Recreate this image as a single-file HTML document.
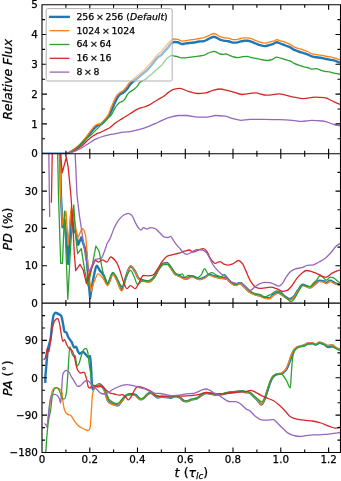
<!DOCTYPE html>
<html><head><meta charset="utf-8"><title>Resolution test</title>
<style>html,body{margin:0;padding:0;background:#fff}svg{display:block}text{font-family:"DejaVu Sans","Liberation Sans",sans-serif;fill:#000;stroke:#000;stroke-width:0.25px}.i{font-style:italic}</style></head>
<body>
<svg width="341" height="481" viewBox="0 0 341 481">
<rect width="341" height="481" fill="#fff"/>
<defs><clipPath id="c1"><rect x="42.0" y="4.7" width="298.5" height="149.0"/></clipPath><clipPath id="c2"><rect x="42.0" y="153.7" width="298.5" height="149.40000000000003"/></clipPath><clipPath id="c3"><rect x="42.0" y="303.1" width="298.5" height="149.39999999999998"/></clipPath></defs>
<g clip-path="url(#c1)" fill="none" stroke-linejoin="round" stroke-linecap="butt">
<path d="M42 153.7C50 153.7 58 153.7 66 153.7C67.17 153.7 68.33 153.07 69.5 152.6C71.47 151.81 73.43 150.46 75.4 149.1C77.17 147.87 78.93 146.4 80.7 144.7C82.47 143 84.23 140.76 86 138.6C87.77 136.44 89.53 133.84 91.3 131.7C92.47 130.29 93.63 128.79 94.8 127.7C95.67 126.89 96.53 126.06 97.4 125.6C98.6 124.96 99.8 124.84 101 124.2C102.17 123.57 103.33 122.38 104.5 121.2C105.97 119.72 107.43 118.01 108.9 115.7C110.03 113.92 111.17 111.18 112.3 108.7C113.3 106.51 114.3 103.75 115.3 101.7C116.27 99.72 117.23 97.64 118.2 96.4C119 95.38 119.8 94.52 120.6 94C121.37 93.51 122.13 93.36 122.9 92.9C123.67 92.44 124.43 91.83 125.2 91.1C126 90.34 126.8 89.28 127.6 88.2C128.37 87.17 129.13 85.63 129.9 84.7C130.7 83.73 131.5 83.01 132.3 82.3C133.27 81.44 134.23 80.77 135.2 80C136.2 79.2 137.2 78.41 138.2 77.6C139.37 76.65 140.53 75.67 141.7 74.7C142.87 73.73 144.03 72.84 145.2 71.8C145.97 71.12 146.73 70.39 147.5 69.6C149.2 67.85 150.9 65.79 152.6 63.8C154.57 61.5 156.53 58.05 158.5 56.7C159.07 56.31 159.63 56.18 160.2 55.8C161.57 54.88 162.93 52.98 164.3 51.5C165.87 49.8 167.43 48.26 169 46.2C169.53 45.5 170.07 44.23 170.6 43.8C171.8 42.84 173 42 174.2 42C175.37 42 176.53 42.14 177.7 42.3C179.17 42.5 180.63 44.1 182.1 44.1C183.27 44.1 184.43 43.57 185.6 43.4C187.07 43.19 188.53 43.05 190 42.9C191.47 42.75 192.93 42.69 194.4 42.5C195.87 42.31 197.33 41.67 198.8 41.5C200.57 41.3 202.33 41.34 204.1 41.1C205.27 40.94 206.43 39.98 207.6 39.4C208.77 38.82 209.93 38.07 211.1 37.6C212 37.24 212.9 36.7 213.8 36.7C214.67 36.7 215.53 37.22 216.4 37.6C217.57 38.11 218.73 39.28 219.9 39.7C221.07 40.12 222.23 40.41 223.4 40.6C225.1 40.88 226.8 40.9 228.5 41.2C229.97 41.45 231.43 42.6 232.9 42.6C234.07 42.6 235.23 42.6 236.4 42.6C237.87 42.6 239.33 41.7 240.8 41.4C242 41.15 243.2 40.8 244.4 40.8C245.57 40.8 246.73 40.8 247.9 40.8C249.07 40.8 250.23 41.33 251.4 41.7C252.87 42.16 254.33 42.92 255.8 43.5C257.27 44.08 258.73 44.81 260.2 45.2C261.67 45.59 263.13 46.1 264.6 46.1C266.07 46.1 267.53 45.57 269 45.2C270.47 44.83 271.93 44.35 273.4 43.8C274.57 43.36 275.73 42.2 276.9 42.2C278.07 42.2 279.23 43.05 280.4 43.5C282.07 44.14 283.73 44.87 285.4 45.5C286.87 46.06 288.33 46.42 289.8 47.1C291.27 47.78 292.73 49.22 294.2 49.9C295.67 50.58 297.13 51 298.6 51.5C300.07 52 301.53 52.43 303 52.9C304.47 53.37 305.93 53.74 307.4 54.3C308.87 54.86 310.33 55.98 311.8 56.4C313.27 56.82 314.73 57.09 316.2 57.3C317.67 57.51 319.13 57.59 320.6 57.8C322.07 58.01 323.53 58.4 325 58.7C326.47 59 327.93 59.32 329.4 59.6C330.87 59.88 332.33 60.05 333.8 60.4C335.87 60.89 337.93 61.87 340 62.6" stroke="#1f77b4" stroke-width="2.4"/>
<path d="M42 153.7C50 153.7 58 153.7 66 153.7C67 153.7 68 152.83 69 152.3C70.87 151.32 72.73 150.14 74.6 148.8C76.33 147.55 78.07 146.1 79.8 144.4C81.57 142.67 83.33 140.39 85.1 138.2C86.87 136.01 88.63 133.47 90.4 131.2C91.57 129.7 92.73 127.91 93.9 126.8C94.8 125.94 95.7 125.06 96.6 124.7C97.77 124.24 98.93 124.27 100.1 123.8C101.27 123.33 102.43 121.8 103.6 120.6C105.07 119.1 106.53 117.79 108 115.4C109.07 113.66 110.13 110.1 111.2 107.5C112.17 105.14 113.13 102.51 114.1 100.5C115.07 98.49 116.03 96.4 117 95.2C117.8 94.2 118.6 93.49 119.4 92.9C120.17 92.33 120.93 92.01 121.7 91.5C122.5 90.96 123.3 90.43 124.1 89.7C124.87 89 125.63 88 126.4 87C127.2 85.96 128 84.47 128.8 83.5C129.57 82.57 130.33 81.86 131.1 81.1C132.07 80.15 133.03 79.21 134 78.4C135 77.56 136 76.9 137 76.1C138.17 75.17 139.33 74.18 140.5 73.2C141.67 72.22 142.83 71.34 144 70.2C144.9 69.32 145.8 68.19 146.7 67.2C148.67 65.04 150.63 63.03 152.6 60.8C154.57 58.57 156.53 55.46 158.5 53.8C159.07 53.32 159.63 53.08 160.2 52.6C161.57 51.44 162.93 49.51 164.3 47.9C165.1 46.96 165.9 45.99 166.7 45C167.33 44.22 167.97 43.27 168.6 42.6C169.27 41.9 169.93 41.24 170.6 40.8C171.8 40.01 173 39 174.2 39C175.37 39 176.53 39.2 177.7 39.4C179.17 39.65 180.63 41.1 182.1 41.1C183.27 41.1 184.43 40.78 185.6 40.6C187.07 40.38 188.53 40.09 190 39.9C191.47 39.71 192.93 39.61 194.4 39.4C195.87 39.19 197.33 38.77 198.8 38.5C200.57 38.17 202.33 38.03 204.1 37.6C205.27 37.31 206.43 36.73 207.6 36.2C208.77 35.68 209.93 34.87 211.1 34.4C212 34.04 212.9 33.5 213.8 33.5C214.67 33.5 215.53 34.01 216.4 34.4C217.57 34.92 218.73 36.27 219.9 36.7C221.07 37.13 222.23 37.41 223.4 37.6C225.1 37.88 226.8 37.9 228.5 38.2C229.97 38.45 231.43 39.6 232.9 39.6C234.07 39.6 235.23 39.6 236.4 39.6C237.87 39.6 239.33 38.82 240.8 38.5C242 38.24 243.2 37.8 244.4 37.8C245.57 37.8 246.73 37.8 247.9 37.8C249.07 37.8 250.23 38.33 251.4 38.7C252.87 39.16 254.33 39.92 255.8 40.5C257.27 41.08 258.73 41.81 260.2 42.2C261.67 42.59 263.13 43.1 264.6 43.1C266.07 43.1 267.53 42.52 269 42.2C270.47 41.88 271.93 41.65 273.4 41.2C274.57 40.84 275.73 39.6 276.9 39.6C278.07 39.6 279.23 40.43 280.4 40.8C282.07 41.34 283.73 41.72 285.4 42.3C286.87 42.81 288.33 43.35 289.8 44.1C291.27 44.85 292.73 46.46 294.2 47.1C295.67 47.74 297.13 48.03 298.6 48.5C300.07 48.97 301.53 49.4 303 49.9C304.47 50.4 305.93 50.87 307.4 51.5C308.87 52.13 310.33 53.4 311.8 53.8C313.27 54.2 314.73 54.37 316.2 54.6C317.67 54.83 319.13 54.97 320.6 55.2C322.07 55.43 323.53 55.75 325 56C326.47 56.25 327.93 56.41 329.4 56.7C330.87 56.99 332.33 57.38 333.8 57.8C335.87 58.39 337.93 59.2 340 59.9" stroke="#ff7f0e" stroke-width="1.3"/>
<path d="M42 153.7C50 153.7 58 153.7 66 153.7C67.17 153.7 68.33 153.14 69.5 152.7C71.4 151.98 73.3 150.6 75.2 149.2C78.13 147.04 81.07 143.44 84 140.8C86.73 138.34 89.47 136.34 92.2 133.8C93.67 132.44 95.13 130.87 96.6 129.4C97.77 128.23 98.93 127.07 100.1 125.9C101.27 124.73 102.43 123.57 103.6 122.4C105.07 120.93 106.53 119.47 108 118C109.17 116.83 110.33 116.01 111.5 114.5C112.57 113.12 113.63 110.46 114.7 108.7C115.47 107.44 116.23 106.12 117 105.2C118 104.01 119 102.85 120 102.3C120.77 101.88 121.53 101.81 122.3 101.4C123.1 100.97 123.9 100.24 124.7 99.3C125.47 98.4 126.23 96.31 127 95.2C127.8 94.05 128.6 92.95 129.4 92.3C130.17 91.68 130.93 91.41 131.7 90.9C132.67 90.26 133.63 89.61 134.6 88.8C135.6 87.96 136.6 87.02 137.6 85.8C138.37 84.87 139.13 82.98 139.9 82.3C140.7 81.59 141.5 81.2 142.3 80.8C143.27 80.32 144.23 80.15 145.2 79.6C145.97 79.16 146.73 78.29 147.5 77.6C148.33 76.86 149.17 76.02 150 75.3C150.87 74.55 151.73 73.93 152.6 73.2C154.57 71.54 156.53 69.62 158.5 67.9C159.67 66.88 160.83 66.12 162 64.9C163.17 63.68 164.33 61.54 165.5 60.2C166.67 58.86 167.83 57.4 169 56.7C170 56.1 171 55.4 172 55.4C172.77 55.4 173.53 55.97 174.3 56.1C175.13 56.24 175.97 56.26 176.8 56.4C178.27 56.65 179.73 57.8 181.2 57.8C182.67 57.8 184.13 57.8 185.6 57.8C187.07 57.8 188.53 57.49 190 57.3C191.47 57.11 192.93 56.79 194.4 56.6C195.87 56.41 197.33 56.3 198.8 56.1C200.57 55.86 202.33 55.67 204.1 55.2C205.27 54.89 206.43 53.92 207.6 53.4C208.77 52.88 209.93 52.34 211.1 52C212.1 51.71 213.1 51.3 214.1 51.3C215.17 51.3 216.23 52.1 217.3 52.6C218.17 53 219.03 53.87 219.9 54C221.07 54.18 222.23 54.3 223.4 54.3C224.27 54.3 225.13 54 226 54C227.13 54 228.27 54.86 229.4 55.3C230.87 55.86 232.33 56.7 233.8 57C235.27 57.3 236.73 57.6 238.2 57.6C239.67 57.6 241.13 56.88 242.6 56.7C244.07 56.52 245.53 56.3 247 56.3C248.47 56.3 249.93 57.27 251.4 57.6C252.87 57.93 254.33 58.12 255.8 58.4C257.27 58.68 258.73 59 260.2 59.3C261.67 59.6 263.13 60.03 264.6 60.2C265.77 60.34 266.93 60.5 268.1 60.5C269.57 60.5 271.03 59.81 272.5 59.3C273.97 58.79 275.43 57.2 276.9 57.2C278.07 57.2 279.23 57.78 280.4 58.1C282.07 58.56 283.73 59.12 285.4 59.6C286.87 60.02 288.33 60.25 289.8 60.8C291.27 61.35 292.73 62.69 294.2 63.4C295.67 64.11 297.13 64.67 298.6 65.2C300.07 65.72 301.53 66.23 303 66.6C304.47 66.97 305.93 67.12 307.4 67.5C308.87 67.88 310.33 69.1 311.8 69.1C313.27 69.1 314.73 68.7 316.2 68.7C317.67 68.7 319.13 69.65 320.6 70.1C322.07 70.55 323.53 71.16 325 71.4C326.47 71.64 327.93 71.66 329.4 71.9C330.87 72.14 332.33 72.76 333.8 73.1C335.87 73.57 337.93 73.9 340 74.3" stroke="#2ca02c" stroke-width="1.3"/>
<path d="M42 153.7C50 153.7 58 153.7 66 153.7C67.17 153.7 68.33 153.18 69.5 152.8C71.2 152.25 72.9 151.39 74.6 150.5C76.93 149.29 79.27 147.91 81.6 146.1C83.37 144.73 85.13 142.49 86.9 140.9C88.67 139.31 90.43 137.74 92.2 136.5C93.67 135.47 95.13 134.44 96.6 133.8C97.77 133.29 98.93 133.08 100.1 132.6C101.57 132 103.03 131.04 104.5 130.3C106.27 129.4 108.03 128.8 109.8 127.7C111.53 126.62 113.27 124.59 115 123.3C116.77 121.99 118.53 120.93 120.3 119.8C121.53 119.01 122.77 118.26 124 117.5C126 116.26 128 115 130 113.8C132.9 112.05 135.8 109.87 138.7 108.7C140.47 107.98 142.23 107.63 144 107C146 106.29 148 105.62 150 104.6C151.17 104.01 152.33 103.03 153.5 102.3C155.07 101.32 156.63 100.42 158.2 99.5C159.93 98.48 161.67 97.67 163.4 96.5C165.1 95.36 166.8 93.58 168.5 92.4C170.2 91.22 171.9 89.7 173.6 89.3C175.73 88.8 177.87 88.4 180 88.4C182.67 88.4 185.33 90.55 188 91.3C191.23 92.21 194.47 93.5 197.7 93.5C200.4 93.5 203.1 93.24 205.8 92.9C207.97 92.63 210.13 91.16 212.3 90.6C214.97 89.91 217.63 89 220.3 89C222.47 89 224.63 89.83 226.8 90.3C228.2 90.61 229.6 90.94 231 91.3C234.77 92.26 238.53 94.5 242.3 94.5C246.6 94.5 250.9 92.9 255.2 92.9C258.97 92.9 262.73 95.2 266.5 95.2C270.8 95.2 275.1 93.9 279.4 93.9C283.7 93.9 288 95.98 292.3 96.8C296.07 97.52 299.83 98.7 303.6 98.7C307.37 98.7 311.13 97.1 314.9 97.1C318.1 97.1 321.3 97.35 324.5 97.7C327.73 98.05 330.97 100.5 334.2 101.9C336.13 102.74 338.07 103.57 340 104.4" stroke="#d62728" stroke-width="1.3"/>
<path d="M42 153.7C50 153.7 58 153.7 66 153.7C67.17 153.7 68.33 153.2 69.5 152.9C71.2 152.47 72.9 152.02 74.6 151.4C76.93 150.55 79.27 149.2 81.6 147.9C83.93 146.6 86.27 144.96 88.6 143.5C90.97 142.02 93.33 140.2 95.7 139.1C98.03 138.02 100.37 137.2 102.7 136.5C105.07 135.79 107.43 135.23 109.8 134.7C112.13 134.18 114.47 133.72 116.8 133.3C119.2 132.86 121.6 132.36 124 132.1C126 131.88 128 131.84 130 131.6C133.23 131.22 136.47 130.28 139.7 129.4C142.93 128.52 146.17 127.34 149.4 126.1C152.6 124.87 155.8 123.29 159 121.9C162.23 120.49 165.47 118.66 168.7 117.7C171.93 116.74 175.17 115.5 178.4 115.5C181.1 115.5 183.8 115.5 186.5 115.5C190.23 115.5 193.97 117.1 197.7 117.1C200.93 117.1 204.17 117.1 207.4 117.1C210.1 117.1 212.8 115.5 215.5 115.5C218.73 115.5 221.97 115.76 225.2 116.1C227.87 116.38 230.53 118.01 233.2 118.7C235.7 119.34 238.2 120.3 240.7 120.3C243.93 120.3 247.17 119.4 250.4 119.4C254.7 119.4 259 119.4 263.3 119.4C268.67 119.4 274.03 119.55 279.4 119.7C283.7 119.82 288 120.02 292.3 120.3C295.53 120.51 298.77 121.3 302 121.3C305.2 121.3 308.4 120.3 311.6 120.3C315.37 120.3 319.13 120.61 322.9 121C326.67 121.39 330.43 123.49 334.2 124.5C336.13 125.02 338.07 125.43 340 125.9" stroke="#9467bd" stroke-width="1.3"/>
</g>
<g clip-path="url(#c2)" fill="none" stroke-linejoin="round" stroke-linecap="butt">
<path d="M60 150L60.9 195L62.6 227.4L64.5 220L65.5 229L68.2 264L71.3 211.2L73.8 232.4L75.7 231L78.2 244.9L81.3 237.4L86.3 252.4L88 275L90.1 298L93 280C94.23 275.27 95.47 265.8 96.7 265.8C97.67 265.8 98.63 268.87 99.6 270.2C100.9 272 102.2 273.06 103.5 275.1C104.9 277.3 106.3 284 107.7 284C109.43 284 111.17 273.4 112.9 273.4C114.47 273.4 116.03 277.96 117.6 280.9C118.93 283.4 120.27 289.9 121.6 289.9C123 289.9 124.4 281.08 125.8 277.4C127.37 273.29 128.93 266.4 130.5 266.4C132.07 266.4 133.63 269.34 135.2 271.6C136.37 273.29 137.53 277.79 138.7 278.6C140.27 279.69 141.83 280.15 143.4 280.5C145.37 280.94 147.33 281.4 149.3 281.4C150.87 281.4 152.43 279.19 154 277.4C155.57 275.61 157.13 271.51 158.7 269.2C160.1 267.13 161.5 264.33 162.9 263.8C164.23 263.29 165.57 262.9 166.9 262.9C168.07 262.9 169.23 265.4 170.4 266.9C171.97 268.91 173.53 272.78 175.1 273.9C176.73 275.07 178.37 275.37 180 276.2C181.17 276.79 182.33 277.84 183.5 278.1C184.67 278.36 185.83 278.6 187 278.6C188.57 278.6 190.13 276.2 191.7 276.2C192.87 276.2 194.03 276.99 195.2 277.4C196.77 277.95 198.33 279.1 199.9 279.1C201.47 279.1 203.03 278.11 204.6 277.4C206.17 276.69 207.73 274.6 209.3 274.6C210.87 274.6 212.43 275.74 214 276.2C215.57 276.66 217.13 277.11 218.7 277.4C220.27 277.69 221.83 277.87 223.4 278.1C224.57 278.27 225.73 278.31 226.9 278.6C228.07 278.89 229.23 281.22 230.4 282.1C231.97 283.28 233.53 284.9 235.1 284.9C236.67 284.9 238.23 283.3 239.8 283.3C241.37 283.3 242.93 285.46 244.5 286.8C246.07 288.14 247.63 290.47 249.2 291.5C250.77 292.53 252.33 293.24 253.9 293.8C255.93 294.53 257.97 294.83 260 295.5C261.6 296.03 263.2 297.05 264.8 297.4C266.37 297.74 267.93 298.1 269.5 298.1C270.7 298.1 271.9 295.78 273.1 295C274.67 293.98 276.23 292.6 277.8 292.6C279.4 292.6 281 294.07 282.6 295C283.77 295.68 284.93 296.7 286.1 297.4C287.3 298.12 288.5 299.3 289.7 299.3C290.9 299.3 292.1 298.32 293.3 297.4C294.87 296.2 296.43 292.34 298 290.3C299.6 288.21 301.2 284.8 302.8 284.8C303.97 284.8 305.13 285.57 306.3 286C307.5 286.44 308.7 287.4 309.9 287.4C311.47 287.4 313.03 285.38 314.6 284.3C316.2 283.19 317.8 280.8 319.4 280.8C320.97 280.8 322.53 281.09 324.1 281.5C324.9 281.71 325.7 283.1 326.5 283.1C327.7 283.1 328.9 280.8 330.1 280.8C331.67 280.8 333.23 282.44 334.8 283.1C336.53 283.83 338.27 284.37 340 285" stroke="#1f77b4" stroke-width="2.4"/>
<path d="M59.9 150L60.7 195L62.6 224.9L66 211.2L68.2 244.9L71.3 206.8L74.5 220L77.6 238.6L81.9 228.7L83.8 229.5L85.7 236.1L88.6 271.7L91.1 291.5L94 282C95.37 279.3 96.73 273.9 98.1 273.9C99.1 273.9 100.1 275.15 101.1 276.1C102.07 277.02 103.03 278.63 104 280C105.23 281.75 106.47 285.6 107.7 285.6C109.43 285.6 111.17 274.6 112.9 274.6C114.47 274.6 116.03 279.08 117.6 282C118.93 284.48 120.27 291 121.6 291C123 291 124.4 281.98 125.8 278C127.37 273.55 128.93 265.7 130.5 265.7C132.07 265.7 133.63 269.07 135.2 271.6C136.37 273.48 137.53 278.34 138.7 279.2C140.27 280.35 141.83 280.81 143.4 281.2C145.37 281.68 147.33 282.2 149.3 282.2C150.87 282.2 152.43 279.85 154 278C155.57 276.15 157.13 272.11 158.7 269.8C160.1 267.73 161.5 264.93 162.9 264.4C164.23 263.89 165.57 263.5 166.9 263.5C168.07 263.5 169.23 266 170.4 267.5C171.97 269.51 173.53 273.38 175.1 274.5C176.73 275.67 178.37 275.97 180 276.8C181.17 277.39 182.33 278.44 183.5 278.7C184.67 278.96 185.83 279.2 187 279.2C188.57 279.2 190.13 276.8 191.7 276.8C192.87 276.8 194.03 277.59 195.2 278C196.77 278.55 198.33 279.7 199.9 279.7C201.47 279.7 203.03 278.71 204.6 278C206.17 277.29 207.73 275.2 209.3 275.2C210.87 275.2 212.43 276.34 214 276.8C215.57 277.26 217.13 277.71 218.7 278C220.27 278.29 221.83 278.47 223.4 278.7C224.57 278.87 225.73 278.91 226.9 279.2C228.07 279.49 229.23 281.82 230.4 282.7C231.97 283.88 233.53 285.5 235.1 285.5C236.67 285.5 238.23 283.9 239.8 283.9C241.37 283.9 242.93 286.06 244.5 287.4C246.07 288.74 247.63 291.07 249.2 292.1C250.77 293.13 252.33 293.84 253.9 294.4C255.93 295.13 257.97 295.43 260 296.1C261.6 296.63 263.2 297.65 264.8 298C266.37 298.34 267.93 298.7 269.5 298.7C270.7 298.7 271.9 296.38 273.1 295.6C274.67 294.58 276.23 293.2 277.8 293.2C279.4 293.2 281 294.67 282.6 295.6C283.77 296.28 284.93 297.3 286.1 298C287.3 298.72 288.5 299.9 289.7 299.9C290.9 299.9 292.1 298.92 293.3 298C294.87 296.8 296.43 292.94 298 290.9C299.6 288.81 301.2 285.4 302.8 285.4C303.97 285.4 305.13 286.17 306.3 286.6C307.5 287.04 308.7 288 309.9 288C311.47 288 313.03 285.98 314.6 284.9C316.2 283.79 317.8 281.4 319.4 281.4C320.97 281.4 322.53 281.69 324.1 282.1C324.9 282.31 325.7 283.7 326.5 283.7C327.7 283.7 328.9 281.4 330.1 281.4C331.67 281.4 333.23 283.04 334.8 283.7C336.53 284.43 338.27 284.97 340 285.6" stroke="#ff7f0e" stroke-width="1.3"/>
<path d="M57.6 150L58.5 195L60.7 263.3L62.5 263.3L64.5 211.2L67.8 299.3L70.7 245L73.8 205L75.5 235L77.6 253.7L81.3 248.7L84.9 271.7L87.9 285.6L91 272L95.9 246C96.9 247.7 97.9 248.56 98.9 251.1C100.1 254.14 101.3 265.84 102.5 270.2C104.13 276.14 105.77 283.4 107.4 283.4C109.2 283.4 111 272.4 112.8 272.4C114.4 272.4 116 277.38 117.6 279.8C119.17 282.17 120.73 286.8 122.3 286.8C123.87 286.8 125.43 277.79 127 275.1C128.17 273.09 129.33 270.4 130.5 270.4C131.67 270.4 132.83 273.92 134 276.2C135.17 278.48 136.33 284.5 137.5 284.5C139.07 284.5 140.63 280.9 142.2 280.9C143.77 280.9 145.33 280.9 146.9 280.9C148.87 280.9 150.83 279.83 152.8 278.6C154.77 277.37 156.73 271.63 158.7 269.2C160.23 267.31 161.77 264.5 163.3 264.5C164.87 264.5 166.43 264.5 168 264.5C169.2 264.5 170.4 266.68 171.6 268C173.13 269.69 174.67 273.42 176.2 273.9C177.47 274.3 178.73 274.6 180 274.6C180.77 274.6 181.53 273.9 182.3 273.9C183.1 273.9 183.9 277.4 184.7 277.4C185.87 277.4 187.03 275.5 188.2 275.5C189.77 275.5 191.33 275.82 192.9 276.2C194.07 276.48 195.23 278.1 196.4 278.1C197.97 278.1 199.53 276.62 201.1 275.1C202.27 273.97 203.43 268.7 204.6 268.7C205.8 268.7 207 273.9 208.2 273.9C209.37 273.9 210.53 272.7 211.7 272.7C213.27 272.7 214.83 274.46 216.4 275.1C217.97 275.74 219.53 276.7 221.1 276.7C222.27 276.7 223.43 274.6 224.6 274.6C225.77 274.6 226.93 277.36 228.1 278.6C229.27 279.84 230.43 281.3 231.6 282.1C233.17 283.18 234.73 284.5 236.3 284.5C237.87 284.5 239.43 282.6 241 282.6C242.17 282.6 243.33 284.53 244.5 285.6C246.07 287.04 247.63 289.12 249.2 290.3C251.17 291.78 253.13 293.36 255.1 293.8C256.73 294.17 258.37 294.09 260 294.5C261.2 294.8 262.4 297.4 263.6 297.4C264.77 297.4 265.93 296.67 267.1 296.2C268.7 295.56 270.3 294.67 271.9 293.8C273.47 292.95 275.03 291 276.6 291C278.2 291 279.8 291.77 281.4 292.6C282.57 293.2 283.73 295.02 284.9 296.2C286.1 297.42 287.3 298.75 288.5 299.8C289.3 300.5 290.1 301.7 290.9 301.7C292.07 301.7 293.23 299.94 294.4 298.6C296 296.76 297.6 292.83 299.2 290.3C300.4 288.4 301.6 285 302.8 285C303.97 285 305.13 285.73 306.3 286C307.5 286.28 308.7 286.7 309.9 286.7C311.07 286.7 312.23 284.27 313.4 283.1C314.6 281.9 315.8 280.95 317 279.6C318.03 278.44 319.07 275.5 320.1 275.5C321.03 275.5 321.97 276.54 322.9 277.2C324.1 278.05 325.3 280.3 326.5 280.3C327.7 280.3 328.9 277.2 330.1 277.2C331.27 277.2 332.43 277.53 333.6 277.9C334.8 278.28 336 279.82 337.2 280.8C338.13 281.56 339.07 282.33 340 283.1" stroke="#2ca02c" stroke-width="1.3"/>
<path d="M51.4 202.8L52.3 150M60.3 150L62.2 172.9L66.4 157L68.2 167.6L70.8 194L72.6 220.4L74.4 255L75.7 270.6L80 264.3L83.2 270L86.4 283.4L90.8 270.2L95.2 259.9C96.17 260.63 97.13 262.1 98.1 262.1C99.57 262.1 101.03 259.9 102.5 259.9C103.97 259.9 105.43 262.1 106.9 262.1C108.13 262.1 109.37 257 110.6 257C112.53 257 114.47 259.6 116.4 262.2C117.57 263.77 118.73 267.23 119.9 270.4C121.1 273.66 122.3 279.24 123.5 282.1C124.67 284.88 125.83 288.7 127 288.7C128.17 288.7 129.33 285.6 130.5 285.6C132.07 285.6 133.63 288.7 135.2 288.7C136.37 288.7 137.53 285.16 138.7 283.3C140.27 280.8 141.83 275.5 143.4 275.5C144.97 275.5 146.53 275.8 148.1 275.8C149.67 275.8 151.23 275.52 152.8 275.1C154.37 274.68 155.93 271.43 157.5 269.2C159.07 266.97 160.63 263.57 162.2 261.5C163.77 259.43 165.33 257.01 166.9 256.3C168.83 255.43 170.77 255.21 172.7 254.7C174.27 254.29 175.83 253.91 177.4 253.5C178.27 253.27 179.13 253.06 180 252.8C181.57 252.32 183.13 251.55 184.7 251.1C186.27 250.65 187.83 250 189.4 250C190.57 250 191.73 252.1 192.9 252.1C194.47 252.1 196.03 250.92 197.6 250.4C199.57 249.75 201.53 248.6 203.5 248.6C204.67 248.6 205.83 250.19 207 251.6C208.17 253.01 209.33 257.13 210.5 258.7C212.07 260.8 213.63 263.3 215.2 263.3C216.77 263.3 218.33 261.7 219.9 261.7C221.07 261.7 222.23 263.33 223.4 263.8C224.97 264.43 226.53 265.2 228.1 265.2C229.67 265.2 231.23 264.4 232.8 263.8C234.77 263.04 236.73 260.5 238.7 260.5C239.87 260.5 241.03 261.96 242.2 263.3C243.37 264.64 244.53 267.93 245.7 270.4C247.27 273.72 248.83 278.38 250.4 280.9C251.97 283.42 253.53 285.98 255.1 286.8C256.73 287.65 258.37 288.4 260 288.4C261.6 288.4 263.2 288.08 264.8 287.9C266.77 287.68 268.73 287.2 270.7 287.2C272.67 287.2 274.63 287.98 276.6 288.6C278.6 289.23 280.6 291.4 282.6 291.4C284.17 291.4 285.73 290.89 287.3 290.3C288.9 289.69 290.5 287.43 292.1 285.5C293.67 283.61 295.23 280.29 296.8 278.4C298.4 276.47 300 274.87 301.6 273.6C303.17 272.36 304.73 270.5 306.3 270.5C307.9 270.5 309.5 270.93 311.1 271.3C313.07 271.75 315.03 272.73 317 273.6C318.6 274.3 320.2 275.46 321.8 276C323.37 276.53 324.93 277.2 326.5 277.2C328.1 277.2 329.7 274.55 331.3 273.6C332.87 272.67 334.43 271.91 336 271.3C337.33 270.78 338.67 270.43 340 270" stroke="#d62728" stroke-width="1.3"/>
<path d="M49.7 217L49.3 190L48.8 150M75 150L77 195L79.6 216.9L82 232.4L85.7 258.5L89.3 271.7L93 262.9C93.97 261.67 94.93 259.45 95.9 259.2C97.63 258.74 99.37 258.98 101.1 258.5C102.07 258.23 103.03 254.86 104 252.6C105.23 249.72 106.47 244.52 107.7 242.3C108.27 241.28 108.83 240.88 109.4 239.9C110.97 237.19 112.53 231.44 114.1 228.2C115.67 224.96 117.23 221.9 118.8 219.9C120.37 217.9 121.93 216.07 123.5 215.2C125.07 214.33 126.63 213.4 128.2 213.4C129.37 213.4 130.53 214.24 131.7 215.2C132.87 216.16 134.03 220.15 135.2 222.3C136.37 224.45 137.53 227.02 138.7 228.2C139.5 229.01 140.3 230 141.1 230C141.87 230 142.63 227.7 143.4 227.7C144.57 227.7 145.73 228.9 146.9 228.9C148.07 228.9 149.23 227.7 150.4 227.7C151.97 227.7 153.53 228.11 155.1 228.6C156.67 229.09 158.23 231.38 159.8 232.8C161.37 234.22 162.93 236.79 164.5 237.1C165.67 237.33 166.83 237.5 168 237.5C168.8 237.5 169.6 236.4 170.4 236.4C171.57 236.4 172.73 239.55 173.9 241.1C175.07 242.65 176.23 244.3 177.4 245.7C178.27 246.74 179.13 247.6 180 248.6C181.17 249.95 182.33 252.03 183.5 252.8C184.67 253.57 185.83 254.4 187 254.4C188.57 254.4 190.13 252.88 191.7 252.1C193.27 251.32 194.83 249.7 196.4 249.7C198.37 249.7 200.33 249.8 202.3 250C203.47 250.12 204.63 251.09 205.8 252.1C206.97 253.11 208.13 255.47 209.3 257.5C210.47 259.53 211.63 262.68 212.8 264.5C214.37 266.94 215.93 268.76 217.5 270.4C219.07 272.04 220.63 273.48 222.2 274.6C223.77 275.72 225.33 276.23 226.9 277.4C228.47 278.57 230.03 281.46 231.6 282.1C233.17 282.74 234.73 283.3 236.3 283.3C237.87 283.3 239.43 283.3 241 283.3C242.57 283.3 244.13 285.63 245.7 286.8C247.27 287.97 248.83 290.3 250.4 290.3C251.97 290.3 253.53 287.89 255.1 286.8C256.73 285.66 258.37 284.19 260 283.6C261.6 283.02 263.2 282.4 264.8 282.4C266.37 282.4 267.93 282.53 269.5 282.7C271.1 282.87 272.7 283.72 274.3 284.3C275.87 284.87 277.43 286.2 279 286.2C280.2 286.2 281.4 284.47 282.6 283.1C283.77 281.77 284.93 278.87 286.1 277.2C287.7 274.91 289.3 272.45 290.9 271.3C292.47 270.17 294.03 269.36 295.6 268.9C297.6 268.31 299.6 268.24 301.6 267.7C303.57 267.17 305.53 265.58 307.5 265.3C309.47 265.02 311.43 265.08 313.4 264.8C315.4 264.51 317.4 262.9 319.4 261.8C321.37 260.72 323.33 259.68 325.3 258.2C327.3 256.69 329.3 254.53 331.3 252.3C332.87 250.55 334.43 247.71 336 246.3C337.33 245.1 338.67 244.43 340 243.5" stroke="#9467bd" stroke-width="1.3"/>
</g>
<g clip-path="url(#c3)" fill="none" stroke-linejoin="round" stroke-linecap="butt">
<path d="M45.3 383L45.3 377.4C45.6 373.9 45.9 370.21 46.2 366.9C46.77 360.65 47.33 352.64 47.9 349.3C48.8 344 49.7 343.83 50.6 338.7C51.17 335.47 51.73 326.85 52.3 322.9C52.77 319.65 53.23 316 53.7 315C54.3 313.72 54.9 312.7 55.5 312.7C56.5 312.7 57.5 313.55 58.5 314.1C59.37 314.57 60.23 314.78 61.1 315.8C61.7 316.5 62.3 320.21 62.9 322.9C63.47 325.44 64.03 331.18 64.6 331.7C65.2 332.25 65.8 332.1 66.4 332.6C67 333.1 67.6 335.86 68.2 337C69.37 339.21 70.53 340.18 71.7 342.2C72.57 343.7 73.43 347.5 74.3 347.5C74.9 347.5 75.5 346.6 76.1 346.6C76.67 346.6 77.23 349.92 77.8 351C78.4 352.14 79 353.7 79.6 353.7C80.77 353.7 81.93 351.9 83.1 351.9C83.97 351.9 84.83 353.63 85.7 354.5C86.6 355.4 87.5 357.2 88.4 357.2C88.97 357.2 89.53 356 90.1 356C90.4 356 90.7 362.78 91 366.9C91.47 373.3 91.93 389.6 92.4 389.6C93.57 389.6 94.73 386.89 95.9 386.1C97.07 385.31 98.23 384.3 99.4 384.3C100.3 384.3 101.2 385.24 102.1 386.1C102.97 386.93 103.83 388.5 104.7 390.5C105.3 391.88 105.9 394.84 106.5 396.6C107.07 398.26 107.63 400.24 108.2 401C109.1 402.2 110 402.83 110.9 403.3C112.07 403.91 113.23 404.27 114.4 404.6C115.57 404.93 116.73 405.4 117.9 405.4C118.5 405.4 119.1 404.36 119.7 403.7C120.57 402.75 121.43 401.33 122.3 400.2C123.47 398.68 124.63 396.53 125.8 395.8C127 395.05 128.2 394.3 129.4 394.3C130.57 394.3 131.73 394.3 132.9 394.3C133.77 394.3 134.63 394.57 135.5 394.9C136.37 395.22 137.23 396.81 138.1 397.5C139 398.22 139.9 399.3 140.8 399.3C141.67 399.3 142.53 398.84 143.4 398.4C144.3 397.94 145.2 396.66 146.1 395.8C146.73 395.2 147.37 394.39 148 394C148.9 393.44 149.8 392.8 150.7 392.8C151.87 392.8 153.03 394.42 154.2 395.2C155.37 395.98 156.53 397.5 157.7 397.5C158.87 397.5 160.03 396.8 161.2 396.8C162.57 396.8 163.93 396.9 165.3 397C167.07 397.12 168.83 397.7 170.6 397.7C172.33 397.7 174.07 396.2 175.8 396.2C177.13 396.2 178.47 396.87 179.8 397.5C181.13 398.13 182.47 400.5 183.8 400.9C184.67 401.16 185.53 401.4 186.4 401.4C188.17 401.4 189.93 400.1 191.7 399.6C193.47 399.1 195.23 398.96 197 398.3C198.3 397.82 199.6 396.35 200.9 395.6C202.67 394.58 204.43 393 206.2 393C207.97 393 209.73 393.5 211.5 393.8C213.23 394.09 214.97 394.8 216.7 394.8C218.47 394.8 220.23 394.54 222 394.3C223.77 394.06 225.53 393.33 227.3 393C229.07 392.67 230.83 392.41 232.6 392.2C234.37 391.99 236.13 391.91 237.9 391.7C239.2 391.55 240.5 391.1 241.8 391.1C243.13 391.1 244.47 392.02 245.8 392.2C246.93 392.35 248.07 392.32 249.2 392.5C250.6 392.72 252 394.9 253.4 396.2C254.83 397.53 256.27 398.87 257.7 400.4C258.9 401.68 260.1 404.6 261.3 404.6C262.23 404.6 263.17 402.23 264.1 400.4C265.23 398.18 266.37 393.85 267.5 390.5C268.43 387.74 269.37 384.3 270.3 382.1C271.27 379.83 272.23 377.35 273.2 376.5C274.6 375.26 276 374.52 277.4 374.2C278.8 373.88 280.2 373.94 281.6 373.6C283.17 373.22 284.73 371.49 286.3 369.4C287.3 368.06 288.3 365 289.3 362.4C290.27 359.89 291.23 355.99 292.2 353.9C293.13 351.88 294.07 349.97 295 349.1C296.17 348.01 297.33 347.33 298.5 346.9C300.37 346.21 302.23 346.12 304.1 345.5C305.5 345.03 306.9 343.67 308.3 343.5C309.73 343.33 311.17 343.2 312.6 343.2C313.53 343.2 314.47 344.6 315.4 344.6C316.8 344.6 318.2 342.7 319.6 342.7C321 342.7 322.4 343.57 323.8 344.1C325.23 344.64 326.67 346 328.1 346C329.5 346 330.9 345.5 332.3 345.5C333.7 345.5 335.1 347.52 336.5 348.3C337.67 348.95 338.83 349.43 340 350" stroke="#1f77b4" stroke-width="2.4"/>
<path d="M47 427.8C47.6 423.1 48.2 418.4 48.8 413.7C49.4 409 50 403.33 50.6 399.6C51.17 396.07 51.73 391.92 52.3 390.8C53.2 389.02 54.1 387.7 55 387.7C55.87 387.7 56.73 387.96 57.6 388.2C58.47 388.44 59.33 388.74 60.2 389.4C60.8 389.86 61.4 390.64 62 392.6C62.3 393.58 62.6 399.3 62.9 401.4C63.47 405.36 64.03 408.86 64.6 410.2C65.5 412.32 66.4 413.52 67.3 414.1C68.47 414.85 69.63 414.76 70.8 415.5C71.97 416.24 73.13 419.2 74.3 420.8C75.47 422.4 76.63 424.13 77.8 425.2C79 426.3 80.2 427.1 81.4 427.8C82.83 428.64 84.27 429.43 85.7 429.9C86.6 430.2 87.5 430.6 88.4 430.6C88.97 430.6 89.53 429.54 90.1 427.8C90.5 426.57 90.9 417.66 91.3 412C91.67 406.81 92.03 397.11 92.4 395.2C93.47 389.65 94.53 387.43 95.6 386.5C96.77 385.48 97.93 384.7 99.1 384.7C100 384.7 100.9 385.64 101.8 386.5C102.67 387.33 103.53 388.9 104.4 390.9C105 392.28 105.6 395.24 106.2 397C106.77 398.66 107.33 400.64 107.9 401.4C108.8 402.6 109.7 403.23 110.6 403.7C111.77 404.31 112.93 404.67 114.1 405C115.27 405.33 116.43 405.8 117.6 405.8C118.2 405.8 118.8 404.76 119.4 404.1C120.27 403.15 121.13 401.73 122 400.6C123.17 399.08 124.33 396.93 125.5 396.2C126.7 395.45 127.9 394.7 129.1 394.7C130.27 394.7 131.43 394.7 132.6 394.7C133.47 394.7 134.33 394.98 135.2 395.3C136.07 395.62 136.93 397.21 137.8 397.9C138.7 398.62 139.6 399.7 140.5 399.7C141.37 399.7 142.23 399.24 143.1 398.8C144 398.34 144.9 397.06 145.8 396.2C146.43 395.6 147.07 394.84 147.7 394.4C148.7 393.7 149.7 392.8 150.7 392.8C151.87 392.8 153.03 394.42 154.2 395.2C155.37 395.98 156.53 397.5 157.7 397.5C158.87 397.5 160.03 396.8 161.2 396.8C162.57 396.8 163.93 396.9 165.3 397C167.07 397.12 168.83 397.7 170.6 397.7C172.33 397.7 174.07 396.2 175.8 396.2C177.13 396.2 178.47 396.87 179.8 397.5C181.13 398.13 182.47 400.5 183.8 400.9C184.67 401.16 185.53 401.4 186.4 401.4C188.17 401.4 189.93 400.1 191.7 399.6C193.47 399.1 195.23 398.96 197 398.3C198.3 397.82 199.6 396.35 200.9 395.6C202.67 394.58 204.43 393 206.2 393C207.97 393 209.73 393.5 211.5 393.8C213.23 394.09 214.97 394.8 216.7 394.8C218.47 394.8 220.23 394.54 222 394.3C223.77 394.06 225.53 393.33 227.3 393C229.07 392.67 230.83 392.41 232.6 392.2C234.37 391.99 236.13 391.91 237.9 391.7C239.2 391.55 240.5 391.1 241.8 391.1C243.13 391.1 244.47 392.02 245.8 392.2C246.93 392.35 248.07 392.32 249.2 392.5C250.6 392.72 252 394.9 253.4 396.2C254.83 397.53 256.27 398.87 257.7 400.4C258.9 401.68 260.1 404.6 261.3 404.6C262.23 404.6 263.17 401.87 264.1 399.9C265.23 397.51 266.37 393.35 267.5 390C268.43 387.24 269.37 383.8 270.3 381.6C271.27 379.33 272.23 376.85 273.2 376C274.6 374.76 276 374.02 277.4 373.7C278.8 373.38 280.2 373.45 281.6 373.1C283 372.75 284.4 371.11 285.8 369.2C286.8 367.84 287.8 364.8 288.8 362.2C289.77 359.69 290.73 355.79 291.7 353.7C292.63 351.68 293.57 349.78 294.5 348.9C295.83 347.64 297.17 346.89 298.5 346.4C300.37 345.72 302.23 345.62 304.1 345C305.5 344.53 306.9 343.17 308.3 343C309.73 342.83 311.17 342.7 312.6 342.7C313.53 342.7 314.47 344.1 315.4 344.1C316.8 344.1 318.2 342.2 319.6 342.2C321 342.2 322.4 343.07 323.8 343.6C325.23 344.14 326.67 345.5 328.1 345.5C329.5 345.5 330.9 345 332.3 345C333.7 345 335.1 347.02 336.5 347.8C337.67 348.45 338.83 348.93 340 349.5" stroke="#ff7f0e" stroke-width="1.3"/>
<path d="M45.8 452.1C46.2 446.33 46.6 439.24 47 434.8C47.6 428.15 48.2 422.77 48.8 419C49.4 415.23 50 413.9 50.6 410.2C51.17 406.71 51.73 399.02 52.3 396.1C52.9 393.01 53.5 390.1 54.1 389.4C54.97 388.39 55.83 387.7 56.7 387.7C57.3 387.7 57.9 388.42 58.5 389.1C59.27 389.97 60.03 392.53 60.8 394.4C61.37 395.79 61.93 398.8 62.5 398.8C63.2 398.8 63.9 398.8 64.6 398.8C65.2 398.8 65.8 395.92 66.4 392.6C66.87 390.02 67.33 381.07 67.8 375C68.5 365.9 69.2 346.6 69.9 346.6C70.5 346.6 71.1 351.26 71.7 352.8C72.27 354.26 72.83 356.3 73.4 356.3C74 356.3 74.6 356 75.2 356C75.8 356 76.4 366 77 366C77.57 366 78.13 365.07 78.7 364.2C79.6 362.81 80.5 357.85 81.4 355.4C82.27 353.04 83.13 349.91 84 349.3C84.7 348.8 85.4 348.4 86.1 348.4C86.57 348.4 87.03 349.63 87.5 351C88.1 352.76 88.7 360.94 89.3 365.1C89.87 369.03 90.43 370.64 91 375.7C91.2 377.49 91.4 383.12 91.6 383.5C92.53 385.28 93.47 385.31 94.4 385.8C94.9 386.06 95.4 386.4 95.9 386.4C97.07 386.4 98.23 385.7 99.4 385.7C100.6 385.7 101.8 386.79 103 387.8C103.87 388.53 104.73 389.84 105.6 391.4C106.2 392.48 106.8 394.46 107.4 395.8C107.97 397.07 108.53 398.59 109.1 399.3C110 400.42 110.9 401.04 111.8 401.6C112.97 402.33 114.13 403.3 115.3 403.3C116.17 403.3 117.03 403.3 117.9 403.3C118.8 403.3 119.7 401.88 120.6 401C121.47 400.15 122.33 398.83 123.2 398C124.37 396.89 125.53 395.65 126.7 395.2C127.87 394.75 129.03 394.3 130.2 394.3C131.4 394.3 132.6 394.3 133.8 394.3C134.67 394.3 135.53 395.21 136.4 395.8C137.27 396.39 138.13 397.58 139 398C139.9 398.43 140.8 398.9 141.7 398.9C142.57 398.9 143.43 397.89 144.3 397.2C145.53 396.22 146.77 393.67 148 393.3C148.9 393.03 149.8 392.8 150.7 392.8C151.87 392.8 153.03 394.03 154.2 394.7C155.37 395.37 156.53 396.8 157.7 396.8C159.27 396.8 160.83 396.4 162.4 396.4C163.37 396.4 164.33 396.52 165.3 396.6C167.07 396.76 168.83 397.3 170.6 397.3C172.33 397.3 174.07 395.8 175.8 395.8C177.13 395.8 178.47 396.47 179.8 397.1C181.13 397.73 182.47 400.1 183.8 400.5C184.67 400.76 185.53 401 186.4 401C188.17 401 189.93 399.7 191.7 399.2C193.47 398.7 195.23 398.56 197 397.9C198.3 397.42 199.6 395.95 200.9 395.2C202.67 394.18 204.43 392.6 206.2 392.6C207.97 392.6 209.73 393.1 211.5 393.4C213.23 393.69 214.97 394.4 216.7 394.4C218.47 394.4 220.23 394.14 222 393.9C223.77 393.66 225.53 392.93 227.3 392.6C229.07 392.27 230.83 392.01 232.6 391.8C234.37 391.59 236.13 391.51 237.9 391.3C239.2 391.15 240.5 390.7 241.8 390.7C243.13 390.7 244.47 391.62 245.8 391.8C246.93 391.95 248.07 391.92 249.2 392.1C250.6 392.32 252 394.36 253.4 395.5C254.83 396.66 256.27 397.95 257.7 399C259.1 400.03 260.5 401.8 261.9 401.8C262.77 401.8 263.63 399.98 264.5 398.5C265.5 396.79 266.5 393.33 267.5 390.5C268.43 387.86 269.37 384.3 270.3 382.1C271.27 379.83 272.23 377.35 273.2 376.5C274.6 375.26 276 374.2 277.4 374.2C278.8 374.2 280.2 374.2 281.6 374.2C282.23 374.2 282.87 375.28 283.5 376C284.5 377.14 285.5 378.8 286.5 380.5C287.77 382.65 289.03 388 290.3 388C290.67 388 291.03 376.81 291.4 372.2C291.87 366.33 292.33 359.09 292.8 356.7C293.47 353.28 294.13 351.24 294.8 350.3C296.03 348.56 297.27 347.69 298.5 347.2C300.37 346.45 302.23 346.42 304.1 345.8C305.5 345.33 306.9 343.97 308.3 343.8C309.73 343.63 311.17 343.5 312.6 343.5C313.53 343.5 314.47 344.9 315.4 344.9C316.8 344.9 318.2 343 319.6 343C321 343 322.4 343.75 323.8 344.4C325.23 345.07 326.67 347.7 328.1 347.7C329.5 347.7 330.9 347.2 332.3 347.2C333.7 347.2 335.1 348.04 336.5 348.6C337.67 349.06 338.83 349.73 340 350.3" stroke="#2ca02c" stroke-width="1.3"/>
<path d="M43.5 359.8C44.1 359.23 44.7 359.03 45.3 358.1C46 357.02 46.7 348.4 47.4 348.4C47.87 348.4 48.33 351.9 48.8 351.9C49.4 351.9 50 344.41 50.6 340.5C51.3 335.94 52 329.11 52.7 326.4C53.47 323.43 54.23 321.02 55 320.2C55.87 319.28 56.73 318.5 57.6 318.5C58.2 318.5 58.8 320.79 59.4 322.9C59.97 324.89 60.53 330.47 61.1 333.4C61.7 336.51 62.3 341.4 62.9 341.4C63.47 341.4 64.03 339.6 64.6 339.6C65.2 339.6 65.8 342.79 66.4 344C67.27 345.75 68.13 347.6 69 348.4C69.9 349.23 70.8 349.2 71.7 350.1C72.57 350.97 73.43 353.46 74.3 356.3C74.9 358.26 75.5 362.82 76.1 365.1C76.67 367.25 77.23 369.53 77.8 370.4C78.7 371.78 79.6 373 80.5 373C81.67 373 82.83 372.1 84 372.1C84.7 372.1 85.4 375.14 86.1 377.4C86.47 378.58 86.83 380.43 87.2 382C87.6 383.72 88 386.9 88.4 387.3C88.97 387.86 89.53 388.2 90.1 388.2C90.7 388.2 91.3 385.74 91.9 385.6C92.73 385.41 93.57 385.3 94.4 385.3C95.57 385.3 96.73 387 97.9 387C99.07 387 100.23 386.3 101.4 386.3C102.97 386.3 104.53 388.76 106.1 390C107.27 390.93 108.43 392.34 109.6 392.8C111.17 393.42 112.73 393.6 114.3 394C115.87 394.4 117.43 395.2 119 395.2C120.17 395.2 121.33 394.7 122.5 394.7C123.67 394.7 124.83 396.46 126 397.5C126.8 398.22 127.6 399.9 128.4 399.9C129.17 399.9 129.93 398.52 130.7 397.5C131.9 395.91 133.1 392.28 134.3 390.5C135.47 388.77 136.63 386.3 137.8 386.3C139.37 386.3 140.93 387.2 142.5 387.7C144.07 388.2 145.63 388.66 147.2 389.3C148.77 389.94 150.33 390.62 151.9 391.7C153.07 392.5 154.23 394.71 155.4 395.2C156.97 395.86 158.53 396.4 160.1 396.4C162.7 396.4 165.3 396.3 167.9 396.2C170.53 396.1 173.17 395.6 175.8 395.6C178.47 395.6 181.13 396.2 183.8 396.2C186.43 396.2 189.07 395.87 191.7 395.6C194.33 395.33 196.97 394.84 199.6 394.3C201.8 393.85 204 392.5 206.2 392.5C208.4 392.5 210.6 393.36 212.8 393.5C215.43 393.66 218.07 393.8 220.7 393.8C223.33 393.8 225.97 393.27 228.6 393C231.23 392.73 233.87 392.4 236.5 392.2C239.17 391.99 241.83 391.97 244.5 391.7C246.53 391.49 248.57 390.3 250.6 390.3C252.03 390.3 253.47 391.26 254.9 391.9C256.77 392.73 258.63 394.14 260.5 395.1C262.37 396.06 264.23 396.9 266.1 397.7C268.47 398.71 270.83 399.25 273.2 400.5C275.53 401.73 277.87 404.02 280.2 406.1C282.07 407.77 283.93 409.7 285.8 411.7C287.2 413.2 288.6 415.64 290 416.5C291.9 417.66 293.8 418.34 295.7 418.8C298.5 419.48 301.3 419.86 304.1 420.2C306.93 420.54 309.77 420.62 312.6 421C315.4 421.38 318.2 422.16 321 423C323.83 423.85 326.67 425.43 329.5 426.4C331.37 427.04 333.23 428.1 335.1 428.1C336.73 428.1 338.37 427.5 340 427.2" stroke="#d62728" stroke-width="1.3"/>
<path d="M44.4 423.4C45 423.97 45.6 424.26 46.2 425.1C46.47 425.47 46.73 426.9 47 426.9C47.6 426.9 48.2 414.92 48.8 410.2C49.4 405.48 50 399.44 50.6 397.9C51.17 396.45 51.73 395.5 52.3 395.2C53.2 394.73 54.1 394.4 55 394.4C55.87 394.4 56.73 395.07 57.6 395.8C58.2 396.3 58.8 397.39 59.4 398.8C59.8 399.74 60.2 403.2 60.6 403.2C60.9 403.2 61.2 396.62 61.5 392.6C61.83 388.14 62.17 380.29 62.5 377C62.63 375.68 62.77 374.2 62.9 373.9C64.07 371.3 65.23 370.4 66.4 370.4C67.27 370.4 68.13 371.25 69 372.1C69.9 372.98 70.8 376.09 71.7 377.4C72 377.84 72.3 378.09 72.6 378.5C73.47 379.7 74.33 381.6 75.2 382.9C76.07 384.2 76.93 386.4 77.8 386.4C78.7 386.4 79.6 386.02 80.5 385.6C81.37 385.2 82.23 383.66 83.1 382.9C84.27 381.88 85.43 380.3 86.6 380.3C87.5 380.3 88.4 381.25 89.3 382C90.2 382.75 91.1 384.38 92 385.3C93.57 386.9 95.13 387.93 96.7 389.3C98.27 390.67 99.83 393.13 101.4 393.5C102.57 393.78 103.73 394 104.9 394C106.1 394 107.3 393.03 108.5 392.4C110.07 391.58 111.63 390.19 113.2 389.3C114.73 388.43 116.27 387.64 117.8 387C119.37 386.34 120.93 385.63 122.5 385.3C124.07 384.97 125.63 384.6 127.2 384.6C128.77 384.6 130.33 385.01 131.9 385.3C133.47 385.59 135.03 386.03 136.6 386.5C138.17 386.97 139.73 387.75 141.3 388.2C142.87 388.65 144.43 388.8 146 389.3C147.57 389.8 149.13 391.06 150.7 391.7C152.27 392.34 153.83 393.18 155.4 393.3C156.93 393.42 158.47 393.39 160 393.5C162.2 393.65 164.4 394.47 166.6 394.8C168.8 395.13 171 395.6 173.2 395.6C175.4 395.6 177.6 395.34 179.8 395.1C182 394.86 184.2 393.96 186.4 393.8C188.6 393.64 190.8 393.68 193 393.5C194.77 393.35 196.53 392.41 198.3 391.7C199.6 391.17 200.9 390.17 202.2 389.8C203.53 389.42 204.87 389 206.2 389C207.5 389 208.8 389.8 210.1 390.4C211.43 391.02 212.77 392.29 214.1 393C215.43 393.71 216.77 394.07 218.1 394.8C219.4 395.51 220.7 396.63 222 397.5C223.33 398.39 224.67 399.43 226 400.1C227.3 400.75 228.6 401.7 229.9 401.7C231.67 401.7 233.43 401.7 235.2 401.7C236.53 401.7 237.87 402.38 239.2 403C240.5 403.61 241.8 405.11 243.1 406.2C244.43 407.31 245.77 408.99 247.1 409.6C247.8 409.92 248.5 409.98 249.2 410.3C251.1 411.18 253 414.51 254.9 416C256.77 417.46 258.63 419.26 260.5 419.6C262.37 419.94 264.23 420.2 266.1 420.2C268.47 420.2 270.83 419.6 273.2 419.6C274.6 419.6 276 421.75 277.4 423C279.27 424.66 281.13 426.88 283 428.6C284.87 430.32 286.73 432.37 288.6 433.4C290.5 434.44 292.4 435.3 294.3 435.7C296.17 436.09 298.03 436.5 299.9 436.5C301.77 436.5 303.63 435.95 305.5 435.7C307.87 435.38 310.23 434.8 312.6 434.8C314.93 434.8 317.27 434.8 319.6 434.8C321.93 434.8 324.27 434.51 326.6 434.3C328.97 434.08 331.33 433.72 333.7 433.4C335.8 433.12 337.9 432.8 340 432.5" stroke="#9467bd" stroke-width="1.3"/>
</g>
<path d="M65.9 4.7v3M89.8 4.7v5M113.6 4.7v3M137.5 4.7v5M161.4 4.7v3M185.3 4.7v5M209.2 4.7v3M233 4.7v5M256.9 4.7v3M280.8 4.7v5M304.7 4.7v3M328.6 4.7v5M65.9 153.7v-3M65.9 153.7v3M89.8 153.7v-5M89.8 153.7v5M113.6 153.7v-3M113.6 153.7v3M137.5 153.7v-5M137.5 153.7v5M161.4 153.7v-3M161.4 153.7v3M185.3 153.7v-5M185.3 153.7v5M209.2 153.7v-3M209.2 153.7v3M233 153.7v-5M233 153.7v5M256.9 153.7v-3M256.9 153.7v3M280.8 153.7v-5M280.8 153.7v5M304.7 153.7v-3M304.7 153.7v3M328.6 153.7v-5M328.6 153.7v5M65.9 303.1v-3M65.9 303.1v3M89.8 303.1v-5M89.8 303.1v5M113.6 303.1v-3M113.6 303.1v3M137.5 303.1v-5M137.5 303.1v5M161.4 303.1v-3M161.4 303.1v3M185.3 303.1v-5M185.3 303.1v5M209.2 303.1v-3M209.2 303.1v3M233 303.1v-5M233 303.1v5M256.9 303.1v-3M256.9 303.1v3M280.8 303.1v-5M280.8 303.1v5M304.7 303.1v-3M304.7 303.1v3M328.6 303.1v-5M328.6 303.1v5M65.9 452.5v-3M89.8 452.5v-5M113.6 452.5v-3M137.5 452.5v-5M161.4 452.5v-3M185.3 452.5v-5M209.2 452.5v-3M233 452.5v-5M256.9 452.5v-3M280.8 452.5v-5M304.7 452.5v-3M328.6 452.5v-5M42 138.8h3M340.5 138.8h-3M42 123.9h5M340.5 123.9h-5M42 109h3M340.5 109h-3M42 94.1h5M340.5 94.1h-5M42 79.2h3M340.5 79.2h-3M42 64.3h5M340.5 64.3h-5M42 49.4h3M340.5 49.4h-3M42 34.5h5M340.5 34.5h-5M42 19.6h3M340.5 19.6h-3M42 284.4h3M340.5 284.4h-3M42 265.8h5M340.5 265.8h-5M42 247.1h3M340.5 247.1h-3M42 228.4h5M340.5 228.4h-5M42 209.7h3M340.5 209.7h-3M42 191.1h5M340.5 191.1h-5M42 172.4h3M340.5 172.4h-3M42 440.1h3M340.5 440.1h-3M42 427.6h3M340.5 427.6h-3M42 415.1h5M340.5 415.1h-5M42 402.7h3M340.5 402.7h-3M42 390.2h3M340.5 390.2h-3M42 377.8h5M340.5 377.8h-5M42 365.4h3M340.5 365.4h-3M42 352.9h3M340.5 352.9h-3M42 340.4h5M340.5 340.4h-5M42 328h3M340.5 328h-3M42 315.6h3M340.5 315.6h-3" stroke="#000" stroke-width="1.1" fill="none"/>
<path d="M42.0 4.7H340.5V452.5H42.0ZM42.0 153.7H340.5M42.0 303.1H340.5" stroke="#000" stroke-width="1.1" fill="none" stroke-linejoin="miter"/>
<g font-size="10.3" text-anchor="end">
<text x="37.8" y="157.4">0</text><text x="37.8" y="127.6">1</text><text x="37.8" y="97.8">2</text><text x="37.8" y="68">3</text><text x="37.8" y="38.2">4</text><text x="37.8" y="8.4">5</text><text x="37.8" y="269.4">10</text><text x="37.8" y="232.1">20</text><text x="37.8" y="194.8">30</text><text x="37.8" y="306.8">0</text><text x="37.8" y="456.2">−180</text><text x="37.8" y="418.8">−90</text><text x="37.8" y="381.5">0</text><text x="37.8" y="344.2">90</text>
</g>
<g font-size="10.3" text-anchor="middle">
<text x="42" y="463.4">0</text><text x="89.8" y="463.4">0.2</text><text x="137.5" y="463.4">0.4</text><text x="185.3" y="463.4">0.6</text><text x="233" y="463.4">0.8</text><text x="280.8" y="463.4">1.0</text><text x="328.6" y="463.4">1.2</text>
</g>
<g font-size="12.5" text-anchor="middle">
<text class="i" transform="translate(12.1 79.4) rotate(-90) scale(1 1)">Relative Flux</text>
<text transform="translate(12.1 229) rotate(-90) scale(1 1)"><tspan class="i">PD</tspan> (%)</text>
<text transform="translate(12.1 378.2) rotate(-90) scale(1 1)"><tspan class="i">PA</tspan> (<tspan font-size="9.4" dy="-4.8" dx="0.2">∘</tspan><tspan dy="4.8" dx="0.3">)</tspan></text>
<text transform="translate(191.3 477) scale(1 1)"><tspan class="i">t</tspan> <tspan dx="0.3">(</tspan><tspan class="i">τ</tspan><tspan class="i" font-size="8.75" dy="2.2">lc</tspan><tspan dy="-2.2">)</tspan></text>
</g>
<rect x="46.2" y="8.6" width="126" height="72.4" rx="1.5" ry="1.5" fill="#fff" fill-opacity="0.5" stroke="#b0b0b0" stroke-width="1"/>
<g font-size="9.35">
<path d="M48.9 16.9h21" stroke="#1f77b4" stroke-width="2.4" fill="none"/><text x="76.4" y="19.8">256<tspan dx="1.7">×</tspan><tspan dx="1.7">256</tspan> (<tspan class="i">Default</tspan>)</text>
<path d="M49.6 30.7h19.8" stroke="#ff7f0e" stroke-width="1.3" fill="none"/><text x="76.4" y="33.6">1024<tspan dx="1.7">×</tspan><tspan dx="1.7">1024</tspan></text>
<path d="M49.6 44.5h19.8" stroke="#2ca02c" stroke-width="1.3" fill="none"/><text x="76.4" y="47.4">64<tspan dx="1.7">×</tspan><tspan dx="1.7">64</tspan></text>
<path d="M49.6 58.3h19.8" stroke="#d62728" stroke-width="1.3" fill="none"/><text x="76.4" y="61.2">16<tspan dx="1.7">×</tspan><tspan dx="1.7">16</tspan></text>
<path d="M49.6 72.1h19.8" stroke="#9467bd" stroke-width="1.3" fill="none"/><text x="76.4" y="75">8<tspan dx="1.7">×</tspan><tspan dx="1.7">8</tspan></text>
</g>
</svg>
</body></html>
